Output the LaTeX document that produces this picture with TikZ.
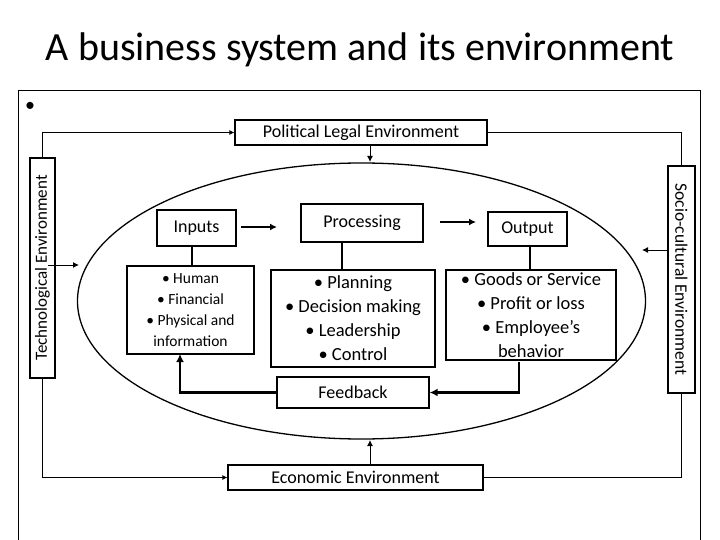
\documentclass[tikz,border=0pt]{standalone}
\usepackage{fontspec}
\setmainfont{Carlito}
\usetikzlibrary{arrows.meta}
\begin{document}
\begin{tikzpicture}[x=1pt,y=-1pt,
  bx/.style={draw,line width=1.3pt,inner sep=0pt,align=center},
  ln/.style={line width=0.8pt},
  ar/.style={line width=1pt,-{Latex[length=6pt,width=6pt]}},
  tk/.style={line width=2.2pt,-{Latex[length=8pt,width=8pt]}}]
\useasboundingbox (0,0) rectangle (720,540);
\node (title) at (360,50) {\fontsize{40}{44}\selectfont A business system and its environment};
\draw[line width=0.6pt] (18,540) -- (18,90) -- (700,90) -- (700,540);
\node (dot) at (30,107) {\fontsize{20}{20}\selectfont •};
\node[bx,minimum width=252,minimum height=25,font=\fontsize{18}{19}\selectfont] (pol) at (361,132.5) {Political Legal Environment};
\node[bx,minimum width=255,minimum height=25,font=\fontsize{18}{19}\selectfont] (eco) at (355.5,477.5) {Economic Environment};
\node[bx,minimum width=220,minimum height=25,rotate=90,font=\fontsize{17}{18}\selectfont] (tech) at (42.5,268) {Technological Environment};
\node[bx,minimum width=227,minimum height=27,rotate=-90,font=\fontsize{17.5}{18}\selectfont] (soc) at (681.5,279.5) {Socio-cultural Environment};
\draw[line width=1.3pt] (361.5,301) ellipse (284 and 138);
\coordinate (et) at (370,162);
\coordinate (eb) at (370,440);
\coordinate (el) at (79,265);
\coordinate (er) at (642,250);
\draw[ar] (pol.south -| et) -- (et);
\draw[ar] (eco.north -| eb) -- (eb);
\draw[ar] (48,265) -- (el);
\draw[ar] (668,250) -- (er);
\draw[ln,->,>={Latex[length=5pt,width=5pt]}] (tech.east) |- (pol.west);
\draw[ln] (pol.east) -| (soc.west);
\draw[ln,->,>={Latex[length=5pt,width=5pt]}] (tech.west) |- (eco.west);
\draw[ln] (eco.east) -| (soc.east);
\node[bx,minimum width=79,minimum height=36,font=\fontsize{18}{19}\selectfont] (in) at (196.5,228) {Inputs};
\node[bx,minimum width=122,minimum height=38,font=\fontsize{18}{19}\selectfont] (pr) at (362,223) {Processing};
\node[bx,minimum width=79,minimum height=34,font=\fontsize{18}{19}\selectfont] (out) at (527.5,229) {Output};
\node[bx,minimum width=127,minimum height=88,font=\fontsize{15.5}{21}\selectfont] (ind) at (190.5,310) {• Human\\• Financial\\• Physical and\\information};
\node[bx,minimum width=164,minimum height=97,font=\fontsize{18.5}{24}\selectfont] (prd) at (353,318.5) {• Planning\\• Decision making\\• Leadership\\• Control};
\node[bx,minimum width=170,minimum height=90,font=\fontsize{18.5}{24}\selectfont] (outd) at (531,315) {• Goods or Service\\• Profit or loss\\• Employee’s\\behavior};
\node[bx,minimum width=152,minimum height=31,font=\fontsize{18}{19}\selectfont] (fb) at (353,392.5) {Feedback};
\draw[line width=2pt,-{Latex[length=7pt,width=7pt]}] (241,227) -- (277,227);
\draw[line width=2pt,-{Latex[length=7pt,width=7pt]}] (440,222) -- (476,222);
\draw[line width=1.8pt] (in.south -| 192,0) -- (ind.north -| 192,0);
\draw[line width=1.8pt] (pr.south -| 342,0) -- (prd.north -| 342,0);
\draw[line width=1.8pt] (out.south -| 530,0) -- (outd.north -| 530,0);
\draw[tk] (519,362) |- (fb.east);
\draw[tk] (fb.west) -| (180,354);
\end{tikzpicture}
\end{document}
